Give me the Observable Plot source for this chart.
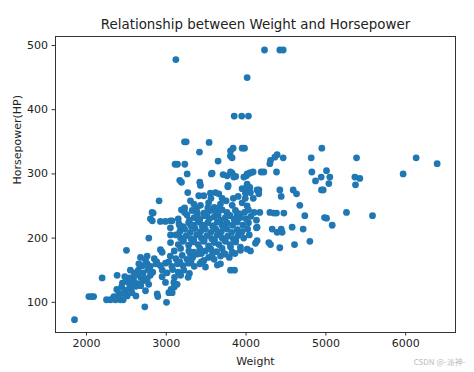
<!DOCTYPE html>
<html>
<head>
<meta charset="utf-8">
<script src="https://cdn.jsdelivr.net/npm/d3@7"></script>
<script src="https://cdn.jsdelivr.net/npm/@observablehq/plot@0.6"></script>
<style>
  html, body { margin: 0; padding: 0; background: #fff; }
  #chart svg { display: block; }
</style>
</head>
<body>
<div id="chart"></div>
<script>
const titleText = "Relationship between Weight and Horsepower";
const xLabel = "Weight";
const yLabel = "Horsepower(HP)";
const watermark = "CSDN @-派神-";
const xTicks = [2000, 3000, 4000, 5000, 6000];
const yTicks = [100, 200, 300, 400, 500];

const weight = [
  4231, 4423, 4465, 3120, 4013, 3851, 3945, 4030,
  3228, 3250, 3537, 3416, 3804, 3825, 3838, 3951, 3980, 3805,
  3649, 4949, 4389, 4360, 4306, 4298, 4465, 4816, 5384, 6131, 6394,
  3110, 3140, 3232,
  3262, 3565, 3574, 3712, 3762, 3825, 3846, 3805, 3870, 4013, 4046, 4088, 4189, 4222, 4381, 4055, 3972, 4005,
  4824, 5008, 4941, 4870, 5049, 5037, 5363, 5425, 5371, 5968,
  3169, 3190, 3420, 3428, 3775, 4013, 4014, 4047,
  4160, 4423, 4590, 4945, 4966, 3950, 3992, 4138, 4159, 3269, 3407, 3470, 3553, 3616, 3658, 4440, 4632, 3900, 4055, 3993, 3771,
  2910, 3303, 3345, 3428, 3530, 3679, 3826, 3950, 4013, 4673, 3600, 3750,
  2836, 2822, 3190, 3230, 3324, 3386, 3470, 3550, 3620, 3700, 3760, 3867, 3909, 3980, 4030, 4100, 4172, 4298, 4348, 4381, 4473, 5258,
  2801, 2825, 3150, 3290, 3350, 3420, 3480, 3540, 3600, 3680, 3740, 3800, 3850, 3930, 4000, 4060, 4130, 4736, 4983, 5008, 5584,
  2927, 2990, 3053, 3073, 3160, 3210, 3280, 3340, 3400, 3460, 3520, 3580, 3640, 3700, 3760, 3830, 3890, 3960, 4030, 4138, 4577, 5079,
  3052, 3170, 3230, 3300, 3360, 3430, 3490, 3560, 3620, 3690, 3760, 3820, 3890, 3950, 4020, 4130, 4327, 4389, 4440, 4452, 4715,
  2781, 3053, 3120, 3180, 3250, 3310, 3380, 3440, 3510, 3570, 3640, 3700, 3770, 3840, 3900, 3970, 4040, 4138,
  3053, 3150, 3210, 3280, 3340, 3400, 3470, 3530, 3600, 3660, 3740, 3800, 3870, 4118, 4285, 4306, 4607, 4799, 4423,
  2501, 2927, 2948, 3100, 3180, 3283, 3345, 3420, 3490, 3560, 3630, 3700, 3805, 3826, 3929, 3930, 4013, 4055,
  2677, 2760, 2740, 2850, 3050, 3120, 3200, 3260, 3330, 3387, 3470, 3530, 3600, 3680, 3740, 3790,
  2656, 2700, 2760, 2800, 2870, 2927, 2990, 3070, 3140, 3210, 3280, 3350, 3420, 3491, 3470, 3640, 3679,
  2550, 2600, 2650, 2710, 2770, 2830, 2950, 3010, 3080, 3150, 3220, 3290, 3805, 3855,
  2196, 2384, 2480, 2540, 2600, 2680, 2740, 2948, 3103, 3274, 3180, 2800,
  2450, 2500, 2540, 2600, 2660, 2720, 2780, 2990, 3095, 3136,
  2380, 2440, 2500, 2560, 2620, 2740, 3060, 3100,
  2030, 2065, 2090, 2343, 2405, 2447, 2510, 2570, 2620, 2886, 2894, 3032, 3074,
  2251, 2301, 2364, 2426, 2460, 3003, 2731, 1850,
  3215, 3345, 3475, 3605, 3735, 3870, 3260, 3390, 3510, 3650, 3780, 3890,
  3230, 3380, 3520, 3660, 3300, 3440, 3580, 3720, 3860, 3170, 3310, 3450, 3590, 3710,
  2880, 3030, 3170, 3310, 3440, 2620, 2700, 2760, 2560, 2680, 3560, 3700, 3840, 3990, 4090
];

const horsepower = [
  493, 493, 493, 478, 450, 390, 390, 390,
  350, 350, 349, 334, 328, 325, 340, 340, 340, 336,
  320, 340, 330, 326, 321, 316, 325, 325, 325, 325, 316,
  315, 315, 315,
  300, 300, 301, 299, 297, 301, 295, 303, 296, 300, 301, 303, 303, 303, 303, 302, 295, 297,
  303, 305, 295, 289, 295, 285, 295, 293, 283, 300,
  290, 287, 287, 282, 282, 284, 282, 279,
  275, 275, 275, 275, 275, 277, 270, 275, 269, 271, 266, 266, 270, 271, 269, 265, 269, 265, 271, 274, 280,
  258, 258, 253, 251, 255, 253, 251, 255, 250, 251, 248, 258,
  239, 240, 244, 240, 243, 240, 239, 243, 240, 244, 240, 243, 238, 240, 244, 240, 240, 240, 239, 239, 239, 240,
  230, 227, 230, 228, 232, 229, 235, 230, 233, 228, 232, 235, 229, 232, 230, 234, 228, 235, 232, 231, 235,
  226, 226, 227, 227, 222, 218, 224, 220, 225, 220, 224, 219, 225, 220, 224, 220, 225, 220, 224, 217, 217, 220,
  216, 210, 214, 209, 215, 210, 214, 209, 214, 210, 214, 209, 213, 210, 214, 216, 214, 209, 214, 209, 214,
  200, 205, 205, 200, 204, 199, 205, 200, 204, 199, 205, 200, 203, 199, 204, 200, 205, 196,
  193, 190, 195, 189, 194, 190, 195, 188, 193, 190, 195, 190, 194, 192, 193, 190, 190, 195, 185,
  181, 182, 178, 180, 184, 180, 178, 184, 180, 183, 179, 184, 186, 178, 186, 181, 183, 180,
  170, 172, 166, 168, 172, 168, 173, 167, 170, 175, 165, 170, 167, 172, 175, 170,
  160, 157, 160, 156, 160, 157, 161, 156, 160, 157, 161, 156, 160, 155, 165, 158, 160,
  150, 146, 150, 146, 151, 147, 150, 146, 151, 147, 150, 145, 150, 150,
  138, 142, 140, 138, 141, 139, 137, 140, 139, 139, 142, 142,
  130, 133, 128, 132, 129, 134, 128, 131, 131, 128,
  120, 124, 119, 122, 125, 118, 120, 124,
  109, 109, 109, 109, 112, 114, 110, 115, 110, 113, 109, 115, 115,
  104, 104, 104, 104, 104, 100, 93, 73,
  197, 197, 197, 197, 197, 197, 236, 236, 236, 236, 236, 236,
  247, 247, 247, 247, 176, 176, 176, 176, 176, 219, 219, 219, 219, 219,
  163, 163, 163, 163, 163, 143, 143, 135, 125, 126, 262, 262, 262, 262, 262
];

const cars = weight.map((w, i) => ({ weight: w, horsepower: horsepower[i] }));

const ink = "#222";
const font = "DejaVu Sans, sans-serif";

const chart = Plot.plot({
  width: 474,
  height: 372,
  marginLeft: 55,
  marginRight: 19,
  marginTop: 36,
  marginBottom: 40,
  style: { fontFamily: font, fontSize: "11px", color: ink, background: "#fff", overflow: "visible" },
  x: { domain: [1612, 6624], ticks: xTicks, label: null },
  y: { domain: [53, 514], ticks: yTicks, label: null },
  marks: [
    Plot.dot(cars, { x: "weight", y: "horsepower", r: 3.4, fill: "#1f77b4", stroke: "none" }),
    Plot.frame({ stroke: "#333", strokeWidth: 1 }),
    Plot.axisX({ ticks: xTicks, tickFormat: d3.format("d"), tickSize: 3.5, tickPadding: 3, fontSize: 11, stroke: "#333", fill: ink, label: null }),
    Plot.axisY({ ticks: yTicks, tickFormat: d3.format("d"), tickSize: 3.5, tickPadding: 4, fontSize: 11, stroke: "#333", fill: ink, label: null }),
    Plot.text([titleText], { frameAnchor: "top", dy: -12, fontSize: 13.4, fill: ink, lineAnchor: "middle" }),
    Plot.text([xLabel], { frameAnchor: "bottom", dy: 29, fontSize: 11, fill: ink, lineAnchor: "middle" }),
    Plot.text([yLabel], { frameAnchor: "left", dx: -38, rotate: -90, fontSize: 11, fill: ink, lineAnchor: "middle" }),
    Plot.text([watermark], { frameAnchor: "bottom-right", dx: 10, dy: 30, textAnchor: "end", fontSize: 8, fill: "#bbb", fontFamily: "Noto Sans CJK SC, sans-serif", lineAnchor: "middle" })
  ]
});

document.getElementById("chart").appendChild(chart);
</script>
</body>
</html>
